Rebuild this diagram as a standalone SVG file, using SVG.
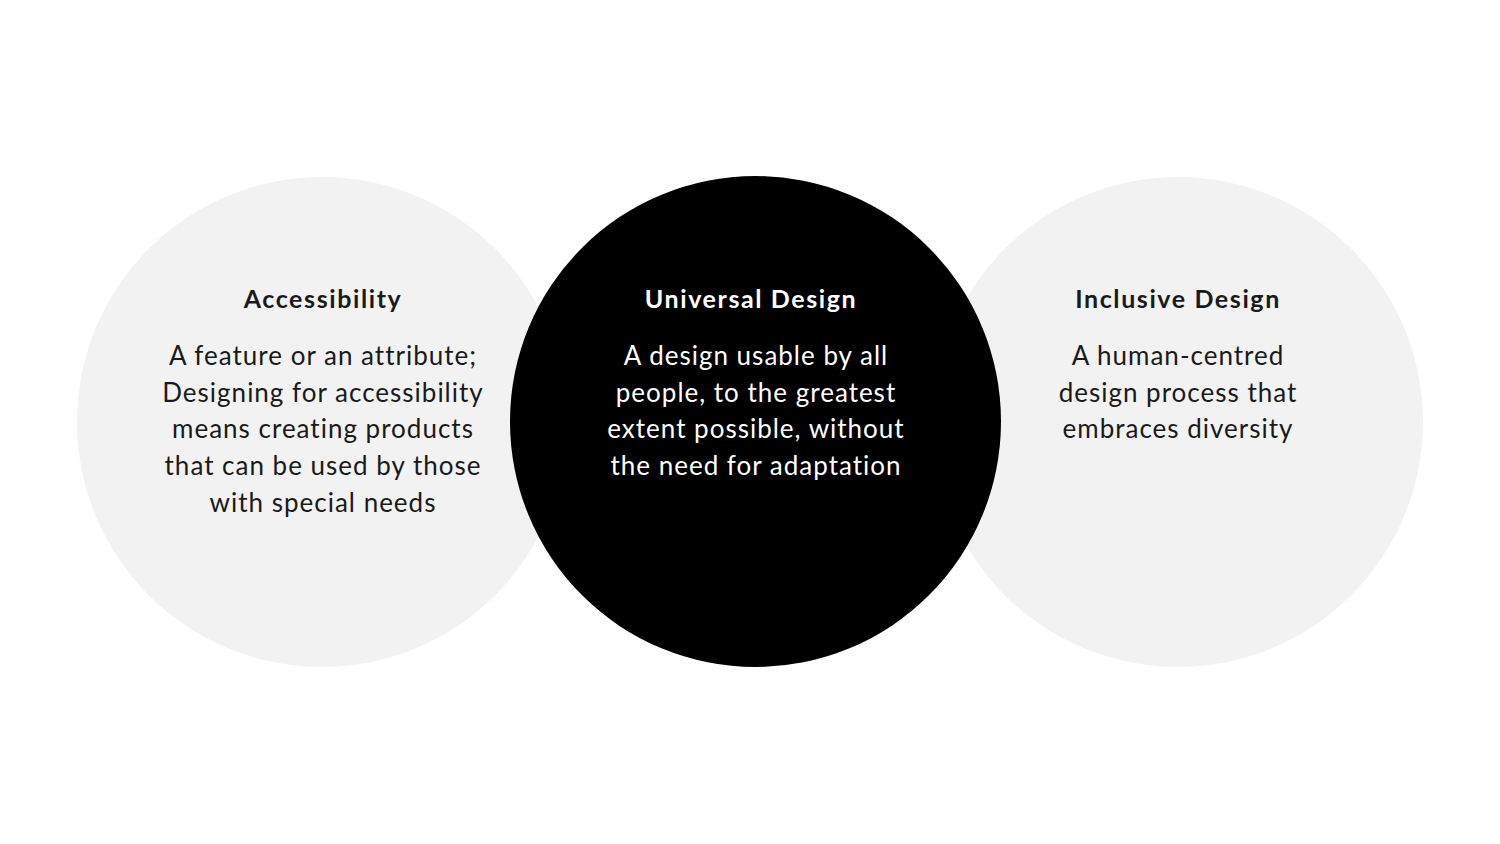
<svg xmlns="http://www.w3.org/2000/svg" width="1500" height="844" viewBox="0 0 1500 844">
<style>
.bg{fill:#ffffff}
.soft{fill:#f2f2f2}
.dark{fill:#000000}
.t{font-family:Lato,"Open Sans","Liberation Sans",sans-serif;font-weight:700;font-size:25px;letter-spacing:1.6px;text-anchor:middle}
.b{font-family:Lato,"Open Sans","Liberation Sans",sans-serif;font-weight:400;font-size:26px;letter-spacing:1px;text-anchor:middle}
.ink{fill:#1a1a1a}
.inv{fill:#ffffff}
</style>
<rect class="bg" x="0" y="0" width="1500" height="844"/>
<g id="accessibility">
<circle class="soft" cx="322" cy="422" r="245"/>
<text class="t ink" x="323" y="308">Accessibility</text>
<text class="b ink" x="323" y="365">A feature or an attribute;</text>
<text class="b ink" x="323" y="402">Designing for accessibility</text>
<text class="b ink" x="323" y="438">means creating products</text>
<text class="b ink" x="323" y="475">that can be used by those</text>
<text class="b ink" x="323" y="512">with special needs</text>
</g>
<g id="inclusive-design">
<circle class="soft" cx="1178" cy="422" r="245"/>
<text class="t ink" x="1178" y="308">Inclusive Design</text>
<text class="b ink" x="1178" y="365">A human-centred</text>
<text class="b ink" x="1178" y="402">design process that</text>
<text class="b ink" x="1178" y="438">embraces diversity</text>
</g>
<g id="universal-design">
<circle class="dark" cx="755.5" cy="421.5" r="245.5"/>
<text class="t inv" x="751" y="308">Universal Design</text>
<text class="b inv" x="756" y="365">A design usable by all</text>
<text class="b inv" x="756" y="402">people, to the greatest</text>
<text class="b inv" x="756" y="438">extent possible, without</text>
<text class="b inv" x="756" y="475">the need for adaptation</text>
</g>
<g id="connectors"/>
</svg>
